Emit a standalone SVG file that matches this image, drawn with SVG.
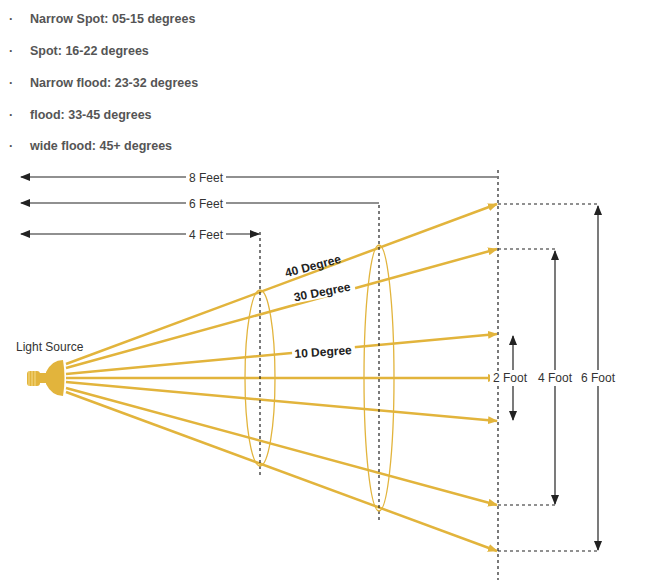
<svg xmlns="http://www.w3.org/2000/svg" width="646" height="588" viewBox="0 0 646 588">
<defs>
<marker id="ya" markerWidth="10" markerHeight="8" refX="9" refY="4" orient="auto" markerUnits="userSpaceOnUse"><path d="M0,0 L10,4 L0,8 z" fill="#e2b43c"/></marker>
<marker id="ka" markerWidth="10" markerHeight="8" refX="9" refY="4" orient="auto-start-reverse" markerUnits="userSpaceOnUse"><path d="M0,0 L10,4 L0,8 z" fill="#222"/></marker>
</defs>
<style>
.b{font-family:"Liberation Sans",Arial,sans-serif;font-weight:bold;font-size:12.5px;fill:#555}
.t{font-family:"Liberation Sans",Arial,sans-serif;font-size:12px;fill:#333}
.d{font-family:"Liberation Sans",Arial,sans-serif;font-weight:bold;font-size:12px;fill:#222}
.ray{stroke:#e2b43c;stroke-width:2.5;fill:none;marker-end:url(#ya)}
.dash{stroke:#222;stroke-width:1.2;stroke-dasharray:3,3;fill:none}
.dim{stroke:#222;stroke-width:1.2;fill:none}
.ell{stroke:#e2b43c;stroke-width:1.3;fill:none}
</style>
<g id="legend">
<text class="b" x="9" y="23">·</text><text class="b" x="30" y="23">Narrow Spot: 05-15 degrees</text>
<text class="b" x="9" y="55">·</text><text class="b" x="30" y="55">Spot: 16-22 degrees</text>
<text class="b" x="9" y="87">·</text><text class="b" x="30" y="87">Narrow flood: 23-32 degrees</text>
<text class="b" x="9" y="119">·</text><text class="b" x="30" y="119">flood: 33-45 degrees</text>
<text class="b" x="9" y="150">·</text><text class="b" x="30" y="150">wide flood: 45+ degrees</text>
</g>
<g id="light-source">
<text class="t" x="16" y="351">Light Source</text>
<rect x="27" y="371" width="13" height="15" rx="3" fill="#e2b43c"/>
<path d="M29,371 v15 M32,371 v15 M35,371 v15" stroke="#f5dc8a" stroke-width="1"/>
<rect x="38" y="373" width="8" height="10" fill="#e2b43c"/>
<path d="M46,372 Q52,360 63,360 Q66,378 63,396 Q52,396 46,384 z" fill="#e2b43c"/>
</g>
<g id="connectors">
<line class="ray" x1="66" y1="364" x2="497" y2="204"/>
<line class="ray" x1="66" y1="368" x2="497" y2="249"/>
<line class="ray" x1="66" y1="374" x2="497" y2="334"/>
<line class="ray" x1="66" y1="378" x2="497" y2="378"/>
<line class="ray" x1="66" y1="382" x2="497" y2="421"/>
<line class="ray" x1="66" y1="388" x2="497" y2="505"/>
<line class="ray" x1="66" y1="392" x2="497" y2="551"/>
<line class="dash" x1="260" y1="232" x2="260" y2="476"/>
<line class="dash" x1="379" y1="205" x2="379" y2="520"/>
<line class="dash" x1="498" y1="170" x2="498" y2="580"/>
<ellipse class="ell" cx="260" cy="378" rx="15" ry="88"/>
<ellipse class="ell" cx="379" cy="378" rx="15" ry="133"/>
<line class="dash" x1="498" y1="204" x2="598" y2="204"/>
<line class="dash" x1="498" y1="249" x2="555" y2="249"/>
<line class="dash" x1="498" y1="505" x2="555" y2="505"/>
<line class="dash" x1="498" y1="551" x2="598" y2="551"/>
<line class="dim" x1="513" y1="336" x2="513" y2="370" marker-start="url(#ka)"/>
<line class="dim" x1="513" y1="386" x2="513" y2="420" marker-end="url(#ka)"/>
<line class="dim" x1="555" y1="251" x2="555" y2="370" marker-start="url(#ka)"/>
<line class="dim" x1="555" y1="386" x2="555" y2="504" marker-end="url(#ka)"/>
<line class="dim" x1="598" y1="206" x2="598" y2="370" marker-start="url(#ka)"/>
<line class="dim" x1="598" y1="386" x2="598" y2="550" marker-end="url(#ka)"/>
<line class="dim" x1="21" y1="177" x2="186" y2="177" marker-start="url(#ka)"/>
<line class="dim" x1="226" y1="177" x2="497" y2="177"/>
<line class="dim" x1="21" y1="203" x2="186" y2="203" marker-start="url(#ka)"/>
<line class="dim" x1="226" y1="203" x2="379" y2="203"/>
<line class="dim" x1="21" y1="234" x2="186" y2="234" marker-start="url(#ka)"/>
<line class="dim" x1="226" y1="234" x2="259" y2="234" marker-end="url(#ka)"/>
</g>
<g id="labels">
<rect x="280" y="252" width="66" height="14" fill="#fff" transform="rotate(-15 313 266)"/>
<text class="d" x="313" y="270" text-anchor="middle" transform="rotate(-15 313 266)">40 Degree</text>
<rect x="289" y="284" width="66" height="14" fill="#fff" transform="rotate(-11 322 291)"/>
<text class="d" x="322" y="296" text-anchor="middle" transform="rotate(-11 322 291)">30 Degree</text>
<rect x="292" y="344" width="63" height="14" fill="#fff" transform="rotate(-4 323 351)"/>
<text class="d" x="323" y="356" text-anchor="middle" transform="rotate(-4 323 351)">10 Degree</text>
<text class="t" x="206" y="182" text-anchor="middle">8 Feet</text>
<text class="t" x="206" y="208" text-anchor="middle">6 Feet</text>
<text class="t" x="206" y="239" text-anchor="middle">4 Feet</text>
<rect x="490" y="371" width="40" height="14" fill="#fff"/>
<text class="t" x="510" y="382" text-anchor="middle">2 Foot</text>
<text class="t" x="555" y="382" text-anchor="middle">4 Foot</text>
<text class="t" x="598" y="382" text-anchor="middle">6 Foot</text>
</g>
</svg>
